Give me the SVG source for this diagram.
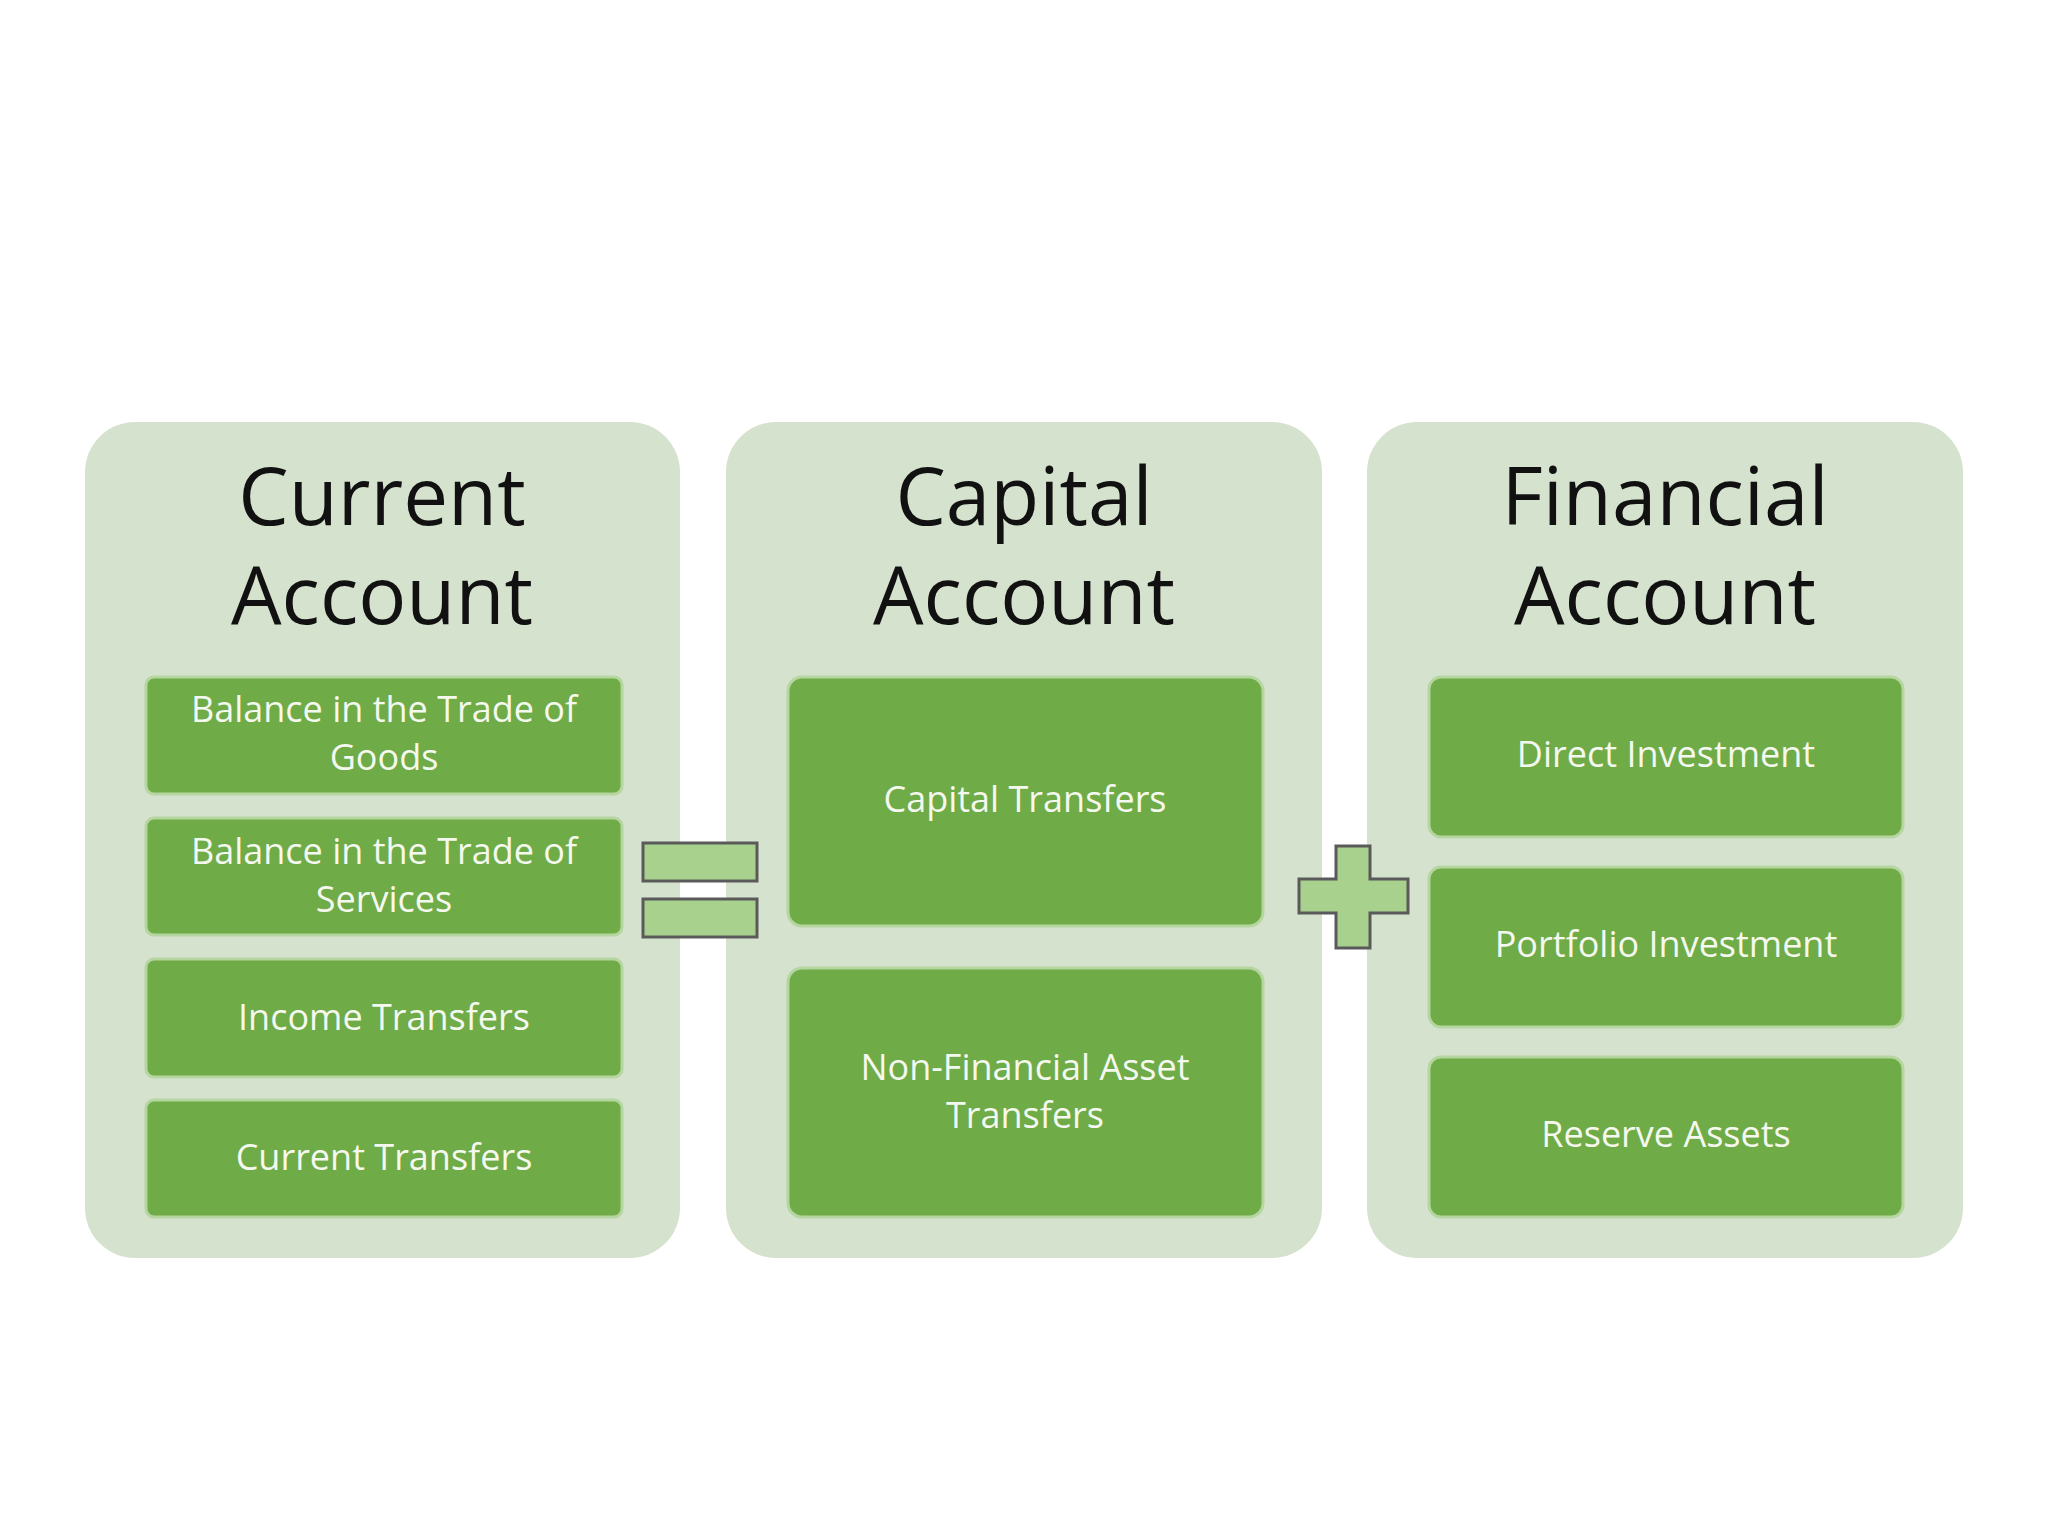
<svg xmlns="http://www.w3.org/2000/svg" width="2048" height="1536" viewBox="0 0 2048 1536">
<style>
.panel{fill:#d5e2cd}
.box{fill:#6fab46;stroke:#b5d6a0;stroke-width:3}
.t{font-family:"Open Sans","DejaVu Sans",sans-serif;font-size:80px;fill:#111;text-anchor:middle}
.b{font-family:"Open Sans","DejaVu Sans",sans-serif;font-size:36px;fill:#f4f8ef;text-anchor:middle}
.op{fill:#a9d18e;stroke:#5a5a5a;stroke-width:3}
</style>
<rect width="2048" height="1536" fill="#fff"/>
<g id="current">
<rect class="panel" x="85" y="422" width="595" height="836" rx="50"/>
<text class="t" x="382" y="525">Current</text><text class="t" x="382" y="624">Account</text>
<rect class="box" x="146" y="677" width="476" height="117" rx="8"/>
<text class="b" x="384" y="722">Balance in the Trade of</text><text class="b" x="384" y="770">Goods</text>
<rect class="box" x="146" y="818" width="476" height="117" rx="8"/>
<text class="b" x="384" y="864">Balance in the Trade of</text><text class="b" x="384" y="912">Services</text>
<rect class="box" x="146" y="959" width="476" height="118" rx="8"/>
<text class="b" x="384" y="1030">Income Transfers</text>
<rect class="box" x="146" y="1100" width="476" height="117" rx="8"/>
<text class="b" x="384" y="1170">Current Transfers</text>
</g>
<g id="capital">
<rect class="panel" x="726" y="422" width="596" height="836" rx="50"/>
<text class="t" x="1024" y="525">Capital</text><text class="t" x="1024" y="624">Account</text>
<rect class="box" x="788" y="677" width="475" height="249" rx="14"/>
<text class="b" x="1025" y="812">Capital Transfers</text>
<rect class="box" x="788" y="968" width="475" height="249" rx="14"/>
<text class="b" x="1025" y="1080">Non-Financial Asset</text><text class="b" x="1025" y="1128">Transfers</text>
</g>
<g id="financial">
<rect class="panel" x="1367" y="422" width="596" height="836" rx="50"/>
<text class="t" x="1665" y="525">Financial</text><text class="t" x="1665" y="624">Account</text>
<rect class="box" x="1429" y="677" width="474" height="160" rx="12"/>
<text class="b" x="1666" y="767">Direct Investment</text>
<rect class="box" x="1429" y="867" width="474" height="160" rx="12"/>
<text class="b" x="1666" y="957">Portfolio Investment</text>
<rect class="box" x="1429" y="1057" width="474" height="160" rx="12"/>
<text class="b" x="1666" y="1147">Reserve Assets</text>
</g>
<g id="connectors">
<rect class="op" x="643" y="843" width="114" height="38"/>
<rect class="op" x="643" y="899" width="114" height="38"/>
<path class="op" d="M1336 846h34v33h38v34h-38v35h-34v-35h-37v-34h37z"/>
</g>
</svg>
